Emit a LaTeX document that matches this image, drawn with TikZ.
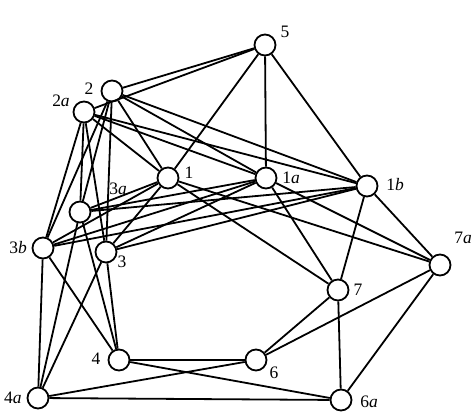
\documentclass[tikz,border=0pt]{standalone}
\usepackage{fontspec}
\setmainfont{Liberation Serif}
\begin{document}
\begin{tikzpicture}[x=1pt,y=-1pt,
  v/.style={circle,draw,line width=1.8pt,minimum size=21pt,inner sep=0pt},
  e/.style={line width=1.8pt},
  lab/.style={font=\fontsize{17.5}{19}\selectfont,inner sep=0pt}]
\useasboundingbox (0,0) rectangle (474,412);
% vertices
\node[v] (n5)  at (265,45)  {};
\node[v] (n2)  at (112,91)  {};
\node[v] (n2a) at (84,112)  {};
\node[v] (n1)  at (168,178) {};
\node[v] (n1a) at (266,178) {};
\node[v] (n1b) at (367,186) {};
\node[v] (n3a) at (80,212)  {};
\node[v] (n3b) at (43,248)  {};
\node[v] (n3)  at (106,252) {};
\node[v] (n7a) at (440,265) {};
\node[v] (n7)  at (338,290) {};
\node[v] (n4)  at (119,360) {};
\node[v] (n6)  at (256,360) {};
\node[v] (n4a) at (38,398)  {};
\node[v] (n6a) at (341,400) {};
% labels
\node[lab] (l5)  at (285,32)  {5};
\node[lab] (l2)  at (89,89)   {2};
\node[lab] (l2a) at (61,101)  {2\textit{a}};
\node[lab] (l1)  at (189,173) {1};
\node[lab] (l1a) at (291,178) {1\textit{a}};
\node[lab] (l1b) at (395,185) {1\textit{b}};
\node[lab] (l3a) at (118,189) {3\textit{a}};
\node[lab] (l3b) at (18,248)  {3\textit{b}};
\node[lab] (l3)  at (122,262) {3};
\node[lab] (l7a) at (463,238) {7\textit{a}};
\node[lab] (l7)  at (358,290) {7};
\node[lab] (l4)  at (96,359)  {4};
\node[lab] (l6)  at (274,373) {6};
\node[lab] (l4a) at (13,398)  {4\textit{a}};
\node[lab] (l6a) at (369,402) {6\textit{a}};
% edges
\foreach \p/\q in {n1/n5,n1a/n5,n1b/n5,n2/n5,n2a/n5,
  n1/n2,n1/n2a,n1a/n2,n1a/n2a,n1b/n2,n1b/n2a,
  n1/n3,n1/n3a,n1/n3b,n1a/n3,n1a/n3a,n1a/n3b,n1b/n3,n1b/n3a,n1b/n3b,
  n1/n7,n1/n7a,n1a/n7,n1a/n7a,n1b/n7,n1b/n7a,
  n2/n3,n2/n3a,n2/n3b,n2a/n3,n2a/n3a,n2a/n3b,
  n3/n4,n3/n4a,n3a/n4,n3a/n4a,n3b/n4,n3b/n4a,
  n4/n6,n4/n6a,n4a/n6,n4a/n6a,
  n6/n7,n6/n7a,n6a/n7,n6a/n7a}
  \draw[e] (\p) -- (\q);
\end{tikzpicture}
\end{document}
